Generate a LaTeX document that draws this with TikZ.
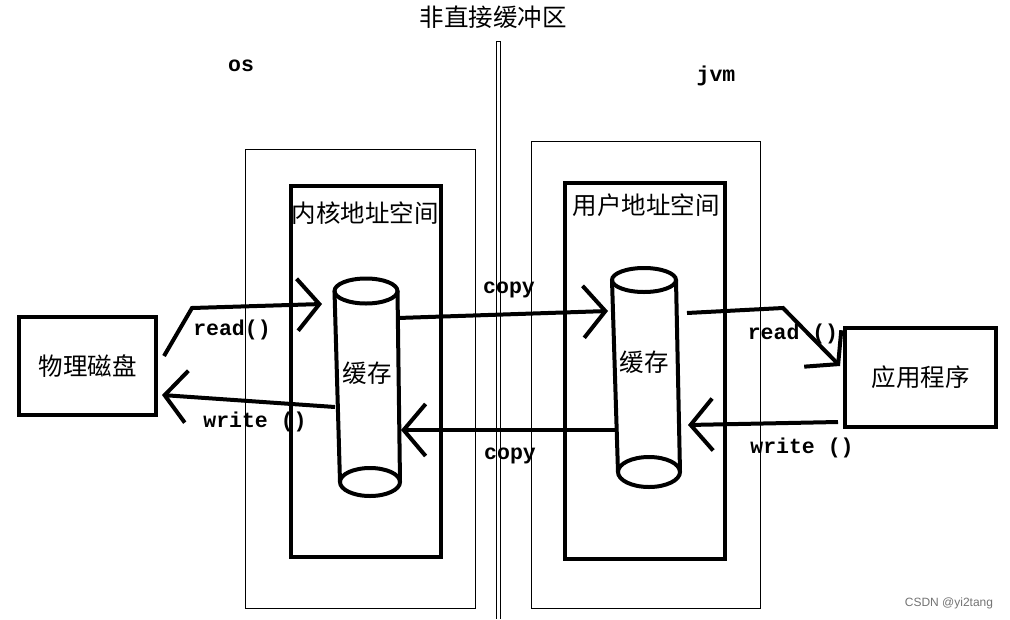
\documentclass[tikz,border=0pt]{standalone}
\usepackage{fontspec}
\setmainfont{Liberation Serif}
\newfontfamily\cjk{Noto Sans CJK SC}
\newfontfamily\monof{Liberation Mono}
\newfontfamily\sansf{Liberation Sans}
\usetikzlibrary{arrows.meta}
\begin{document}
\begin{tikzpicture}[x=1pt,y=-1pt,
  thin/.style={draw=black,line width=1pt},
  thickbox/.style={draw=black,line width=4.5pt},
  cjkt/.style={font=\cjk\fontsize{24.5}{28}\selectfont},
  mono/.style={font=\monof\bfseries\fontsize{21.5}{24}\selectfont},
  bigarrow/.style={draw=black,line width=4pt,line join=miter,
    -{Straight Barb[length=22pt,width=52pt]}},
  cylline/.style={draw=black,line width=4pt}
]
\useasboundingbox (0,0) rectangle (1010,619);
% title and separator
\node[cjkt,inner sep=0pt] (title) at (493,17) {非直接缓冲区};
\draw[thin] (496,41) -- (496,619);
\draw[thin] (500,41) -- (500,619);
\draw[thin] (496,41) -- (500,41);
% outer thin rectangles
\draw[thin] (245,149) rectangle (475,608);
\draw[thin] (531,141) rectangle (760,608);
\node[mono,inner sep=0pt] (os) at (241,66) {os};
\node[mono,inner sep=0pt] (jvm) at (716,76) {jvm};
% address space boxes
\draw[thickbox] (291,186) rectangle (441,557);
\draw[thickbox] (565,183) rectangle (725,559);
\node[cjkt,inner sep=0pt] (kern) at (365,213) {内核地址空间};
\node[cjkt,inner sep=0pt] (user) at (646,205) {用户地址空间};
% end boxes
\node[thickbox,minimum width=137pt,minimum height=98pt,cjkt] (disk) at (87.5,366) {物理磁盘};
\node[thickbox,minimum width=151pt,minimum height=99pt,cjkt] (app) at (920.5,377.5) {应用程序};
% left cylinder
\draw[cylline] (366,291) ellipse [x radius=31.5pt,y radius=12.5pt];
\draw[cylline] (370,482) ellipse [x radius=30pt,y radius=14pt];
\draw[cylline] (334.5,291) -- (340,482);
\draw[cylline] (397.5,291) -- (400,482);
\node[cjkt,inner sep=0pt] (cacheL) at (367,373) {缓存};
% right cylinder
\draw[cylline] (644,280) ellipse [x radius=32pt,y radius=12pt];
\draw[cylline] (649,472) ellipse [x radius=31pt,y radius=15pt];
\draw[cylline] (612,280) -- (618,472);
\draw[cylline] (676,280) -- (680,472);
\node[cjkt,inner sep=0pt] (cacheR) at (644,362) {缓存};
% arrow coordinates
\coordinate (r1s) at (164,356);
\coordinate (r1c) at (192,308);
\coordinate (r1e) at (322,304);
\coordinate (w1s) at (335,407);
\coordinate (w1e) at (162,395);
\coordinate (c1s) at (398,318);
\coordinate (c1e) at (608,311);
\coordinate (c2s) at (616,430);
\coordinate (c2e) at (401,430);
\coordinate (r2s) at (687,313);
\coordinate (r2c) at (783,308);
\coordinate (r2e) at (840,366);
\coordinate (w2s) at (838,422);
\coordinate (w2e) at (688,425);
\draw[bigarrow] (r1s) -- (r1c) -- (r1e);
\draw[bigarrow] (w1s) -- (w1e);
\draw[bigarrow] (c1s) -- (c1e);
\draw[bigarrow] (c2s) -- (c2e);
\draw[bigarrow] (r2s) -- (r2c) -- (r2e);
\draw[bigarrow] (w2s) -- (w2e);
% labels
\node[mono,inner sep=0pt] (lr1) at (232,330) {read()};
\node[mono,inner sep=0pt] (lw1) at (255,422) {write ()};
\node[mono,inner sep=0pt] (lc1) at (509,290) {copy};
\node[mono,inner sep=0pt] (lc2) at (510,456) {copy};
\node[mono,inner sep=0pt] (lr2) at (793,334) {read ()};
\node[mono,inner sep=0pt] (lw2) at (802,448) {write ()};
\node[font=\sansf\fontsize{12}{14}\selectfont,text=black!55,inner sep=0pt] (wm) at (949,603) {CSDN @yi2tang};
\end{tikzpicture}
\end{document}
